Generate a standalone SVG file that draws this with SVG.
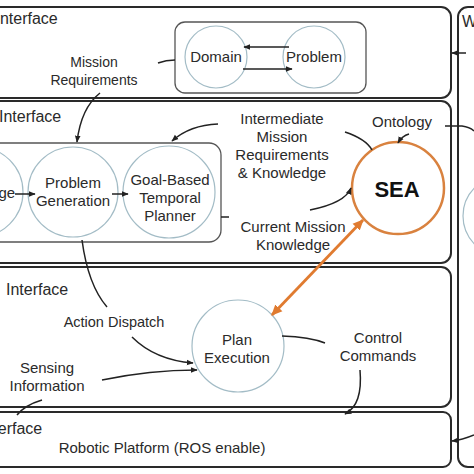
<svg xmlns="http://www.w3.org/2000/svg" width="474" height="474" viewBox="0 0 474 474">
<defs>
<style>
.panel{fill:#fff;stroke:#2a2a2a;stroke-width:2}
.inner{fill:none;stroke:#555;stroke-width:1.3}
.node{fill:#fff;stroke:#a3bcc6;stroke-width:1.2}
.sea{fill:#fff;stroke:#d9823f;stroke-width:2.5}
.conn{fill:none;stroke:#222;stroke-width:1.5}
.orange{fill:none;stroke:#e07b30;stroke-width:2.8}
text{font-family:"Liberation Sans",Arial,sans-serif;fill:#2a2a2a;font-size:15px}
.mid{text-anchor:middle}
.lbl{font-size:16px}
.sm{font-size:14px}
.big{font-size:22px;font-weight:bold;fill:#111}
</style>
<marker id="ah" viewBox="0 0 10 10" refX="9" refY="5" markerWidth="7" markerHeight="7" markerUnits="userSpaceOnUse" orient="auto">
<path d="M0,1 L10,5 L0,9 Z" fill="#222"/>
</marker>
<marker id="oh" viewBox="0 0 10 10" refX="9" refY="5" markerWidth="11" markerHeight="11" markerUnits="userSpaceOnUse" orient="auto-start-reverse">
<path d="M0,0.5 L10,5 L0,9.5 Z" fill="#e07b30"/>
</marker>
</defs>
<rect width="474" height="474" fill="#fff"/>

<g id="panels">
<rect id="panel-top" class="panel" x="-20" y="7" width="471" height="91" rx="10"/>
<rect id="panel-planning" class="panel" x="-20" y="101" width="471" height="162" rx="10"/>
<rect id="panel-exec" class="panel" x="-20" y="267" width="471" height="140" rx="10"/>
<rect id="panel-robot" class="panel" x="-20" y="412" width="471" height="55" rx="8"/>
<rect id="panel-right" class="panel" x="458" y="7" width="40" height="460" rx="10"/>
<text class="lbl" x="-4.5" y="24">Interface</text>
<text class="lbl" x="-1" y="122">Interface</text>
<text class="lbl" x="6" y="295">Interface</text>
<text class="lbl" x="-20" y="434">Interface</text>
<text class="lbl" x="462" y="27">W</text>
</g>

<g id="inner-boxes">
<rect class="inner" x="175" y="22" width="191" height="71" rx="10"/>
<rect class="inner" x="-20" y="143" width="241" height="99" rx="12"/>
</g>

<g id="domain"><circle class="node" cx="216" cy="57" r="31"/><text class="mid" x="216" y="62">Domain</text></g>
<g id="problem"><circle class="node" cx="314" cy="57" r="31"/><text class="mid" x="314" y="62">Problem</text></g>
<g id="knowledge"><circle class="node" cx="-22" cy="192" r="45"/><text class="mid" x="-22" y="198">Knowledge</text></g>
<g id="problem-generation"><circle class="node" cx="73" cy="192" r="45"/><text class="mid" x="73" y="188">Problem</text><text class="mid" x="73" y="206">Generation</text></g>
<g id="planner"><circle class="node" cx="169" cy="192" r="46"/><text class="mid" x="170" y="185">Goal-Based</text><text class="mid" x="170" y="203">Temporal</text><text class="mid" x="170" y="221">Planner</text></g>
<g id="sea"><circle class="sea" cx="398" cy="188" r="46"/><text class="mid big" x="397" y="197">SEA</text></g>
<g id="plan-execution"><circle class="node" cx="238" cy="346" r="46"/><text class="mid" x="237" y="345">Plan</text><text class="mid" x="237" y="363">Execution</text></g>
<g id="world-node"><circle class="node" cx="503" cy="216" r="40"/></g>

<g id="connectors">
<path class="conn" d="M289,47 L244,47" marker-end="url(#ah)"/>
<path class="conn" d="M243,69 L292,69" marker-end="url(#ah)"/>
<path class="conn" d="M158,63 Q166,60 175,60"/>
<path class="conn" d="M100,93 Q81,108 77,142" marker-end="url(#ah)"/>
<path class="conn" d="M466,53 L452,53" marker-end="url(#ah)"/>
<path class="conn" d="M218,124 Q190,125 172,141" marker-end="url(#ah)"/>
<path class="conn" d="M345,132 Q366,139 372,150"/>
<path class="conn" d="M409,134 Q402,136 398,143" marker-end="url(#ah)"/>
<path class="conn" d="M445,126 L462,126 Q470,127 474,131"/>
<path class="conn" d="M310,210 Q345,203 351,188" marker-end="url(#ah)"/>
<path class="conn" d="M221,217 L229,217"/>
<path class="conn" d="M15,194 L35,194" marker-end="url(#ah)"/>
<path class="conn" d="M112,194 L128,194" marker-end="url(#ah)"/>
<path class="conn" d="M82,240 Q88,285 107,307"/>
<path class="conn" d="M132,337 Q155,360 193,363" marker-end="url(#ah)"/>
<path class="conn" d="M102,380 Q150,370 197,370" marker-end="url(#ah)"/>
<path class="conn" d="M42,400 Q25,405 17,415"/>
<path class="conn" d="M282,336 Q310,337 325,343"/>
<path class="conn" d="M360,370 Q363,405 345,414" marker-end="url(#ah)"/>
<path class="conn" d="M474,435 Q462,440 452,441" marker-end="url(#ah)"/>
<path class="orange" d="M363,220 L272,315" marker-start="url(#oh)" marker-end="url(#oh)"/>
</g>

<g id="labels">
<text class="mid sm" x="94" y="67">Mission</text>
<text class="mid sm" x="94" y="85">Requirements</text>
<text class="mid" x="282" y="124">Intermediate</text>
<text class="mid" x="282" y="142">Mission</text>
<text class="mid" x="282" y="160">Requirements</text>
<text class="mid" x="282" y="178">&amp; Knowledge</text>
<text class="mid" x="402" y="127">Ontology</text>
<text class="mid" x="293" y="232">Current Mission</text>
<text class="mid" x="293" y="250">Knowledge</text>
<text class="mid" x="114" y="327" style="font-size:14.5px">Action Dispatch</text>
<text class="mid" x="47" y="373">Sensing</text>
<text class="mid" x="47" y="391">Information</text>
<text class="mid" x="378" y="343">Control</text>
<text class="mid" x="378" y="361">Commands</text>
<text class="mid" x="162" y="453">Robotic Platform (ROS enable)</text>
</g>
</svg>
